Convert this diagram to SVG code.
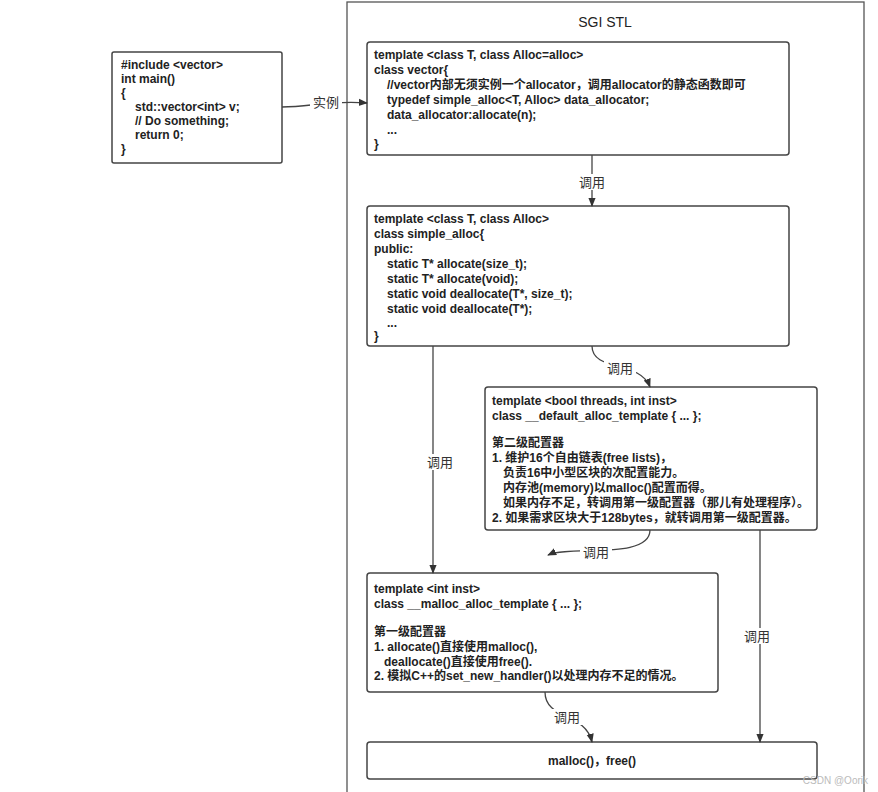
<svg xmlns="http://www.w3.org/2000/svg" width="878" height="792" viewBox="0 0 878 792">
<defs>
<marker id="ar" viewBox="0 0 10 10" refX="9" refY="5" markerWidth="7" markerHeight="7" orient="auto-start-reverse"><path d="M0,1 L10,5 L0,9 z" fill="#333"/></marker>
</defs>
<style>
text{font-family:"Liberation Sans","Noto Sans CJK SC",sans-serif;font-size:12px;fill:#222}
.b{font-weight:bold}
.box{fill:#fff;stroke:#444;stroke-width:1.5}
.c{fill:none;stroke:#444;stroke-width:1.3;marker-end:url(#ar)}
.lbl{font-size:13px;fill:#333}
</style>
<rect width="878" height="792" fill="#fff"/>
<g id="frame"><rect x="347" y="2" width="517" height="800" fill="none" stroke="#555" stroke-width="1.3"/>
<text x="605" y="27" text-anchor="middle" style="font-size:14px">SGI STL</text></g>
<g id="main"><rect class="box" x="112" y="52" width="170" height="111" rx="2"/>
<text class="b" x="121" y="69">#include &lt;vector&gt;</text>
<text class="b" x="121" y="83">int main()</text>
<text class="b" x="121" y="97">{</text>
<text class="b" x="135" y="111">std::vector&lt;int&gt; v;</text>
<text class="b" x="135" y="125">// Do something;</text>
<text class="b" x="135" y="139">return 0;</text>
<text class="b" x="121" y="153">}</text></g>
<g id="vector"><rect class="box" x="367" y="42" width="422" height="113" rx="3"/>
<text class="b" x="374" y="59">template &lt;class T, class Alloc=alloc&gt;</text>
<text class="b" x="374" y="74">class vector{</text>
<text class="b" x="387" y="89">//vector内部无须实例一个allocator，调用allocator的静态函数即可</text>
<text class="b" x="387" y="104">typedef simple_alloc&lt;T, Alloc&gt; data_allocator;</text>
<text class="b" x="387" y="119">data_allocator:allocate(n);</text>
<text class="b" x="387" y="134">...</text>
<text class="b" x="374" y="148">}</text></g>
<g id="simple"><rect class="box" x="367" y="206" width="422" height="140" rx="3"/>
<text class="b" x="374" y="223">template &lt;class T, class Alloc&gt;</text>
<text class="b" x="374" y="238">class simple_alloc{</text>
<text class="b" x="374" y="253">public:</text>
<text class="b" x="387" y="268">static T* allocate(size_t);</text>
<text class="b" x="387" y="283">static T* allocate(void);</text>
<text class="b" x="387" y="298">static void deallocate(T*, size_t);</text>
<text class="b" x="387" y="313">static void deallocate(T*);</text>
<text class="b" x="387" y="327">...</text>
<text class="b" x="374" y="340">}</text></g>
<g id="default"><rect class="box" x="485" y="387" width="332" height="143" rx="3"/>
<text class="b" x="492" y="405">template &lt;bool threads, int inst&gt;</text>
<text class="b" x="492" y="420">class __default_alloc_template { ... };</text>
<text class="b" x="492" y="447">第二级配置器</text>
<text class="b" x="492" y="462">1. 维护16个自由链表(free lists)，</text>
<text class="b" x="503" y="477">负责16中小型区块的次配置能力。</text>
<text class="b" x="503" y="492">内存池(memory)以malloc()配置而得。</text>
<text class="b" x="503" y="507">如果内存不足，转调用第一级配置器（那儿有处理程序）。</text>
<text class="b" x="492" y="522">2. 如果需求区块大于128bytes，就转调用第一级配置器。</text></g>
<g id="mallocalloc"><rect class="box" x="367" y="573" width="351" height="119" rx="3"/>
<text class="b" x="374" y="593">template &lt;int inst&gt;</text>
<text class="b" x="374" y="608">class __malloc_alloc_template { ... };</text>
<text class="b" x="374" y="636">第一级配置器</text>
<text class="b" x="374" y="651">1. allocate()直接使用malloc(),</text>
<text class="b" x="384" y="666">deallocate()直接使用free().</text>
<text class="b" x="374" y="680">2. 模拟C++的set_new_handler()以处理内存不足的情况。</text></g>
<g id="mallocfree"><rect class="box" x="367" y="742" width="450" height="37" rx="3"/>
<text class="b" x="592" y="765" text-anchor="middle">malloc()，free()</text></g>
<g id="connectors">
<path class="c" d="M282,107 C310,107 330,100 367,103"/>
<path class="c" d="M592,155 L592,206"/>
<path class="c" d="M592,346 C592,372 640,360 650,387"/>
<path class="c" d="M433,346 L433,573"/>
<path class="c" d="M650,530 C650,560 570,545 548,555"/>
<path class="c" d="M760,530 L760,742"/>
<path class="c" d="M545,692 C545,720 585,712 592,742"/>
<rect x="310" y="94" width="32" height="16" fill="#fff"/><text class="lbl" x="326" y="107" text-anchor="middle">实例</text>
<rect x="576" y="174" width="32" height="16" fill="#fff"/><text class="lbl" x="592" y="187" text-anchor="middle">调用</text>
<rect x="604" y="360" width="32" height="16" fill="#fff"/><text class="lbl" x="620" y="373" text-anchor="middle">调用</text>
<rect x="424" y="454" width="32" height="16" fill="#fff"/><text class="lbl" x="440" y="467" text-anchor="middle">调用</text>
<rect x="580" y="544" width="32" height="16" fill="#fff"/><text class="lbl" x="596" y="557" text-anchor="middle">调用</text>
<rect x="741" y="628" width="32" height="16" fill="#fff"/><text class="lbl" x="757" y="641" text-anchor="middle">调用</text>
<rect x="551" y="709" width="32" height="16" fill="#fff"/><text class="lbl" x="567" y="722" text-anchor="middle">调用</text>
</g>
<text x="868" y="784" text-anchor="end" style="font-size:10px;fill:#bbb">CSDN @Oorik</text>
</svg>
